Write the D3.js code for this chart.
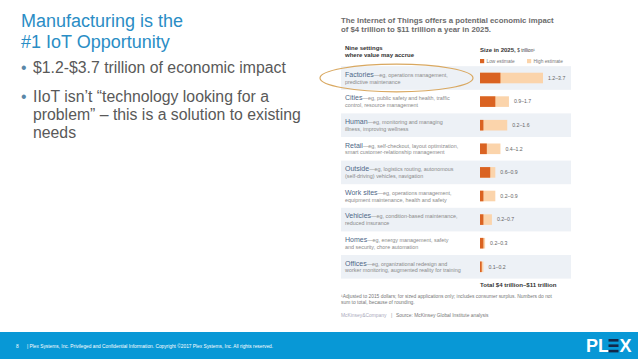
<!DOCTYPE html>
<html><head><meta charset="utf-8">
<script src="https://cdn.jsdelivr.net/npm/d3@7"></script>
<style>
html,body{margin:0;padding:0;background:#fff;}
svg{display:block;font-family:"Liberation Sans",Arial,sans-serif;}
</style></head>
<body>
<svg id="c" width="638" height="359"></svg>
<script>
const settings = ["Factories","Cities","Human","Retail","Outside","Work sites","Vehicles","Homes","Offices"];
const descLine1 = ["—eg, operations management,","—eg, public safety and health, traffic","—eg, monitoring and managing","—eg, self-checkout, layout optimization,","—eg, logistics routing, autonomous","—eg, operations management,","—eg, condition-based maintenance,","—eg, energy management, safety","—eg, organizational redesign and"];
const descLine2 = ["predictive maintenance","control, resource management","illness, improving wellness","smart customer-relationship management","(self-driving) vehicles, navigation","equipment maintenance, health and safety","reduced insurance","and security, chore automation","worker monitoring, augmented reality for training"];
const lowEstimate = [1.2,0.9,0.2,0.4,0.6,0.2,0.2,0.2,0.1];
const highEstimate = [3.7,1.7,1.6,1.2,0.9,0.9,0.7,0.3,0.2];
const valueLabels = ["1.2–3.7","0.9–1.7","0.2–1.6","0.4–1.2","0.6–0.9","0.2–0.9","0.2–0.7","0.2–0.3","0.1–0.2"];
const legendLabels = ["Low estimate","High estimate"];

const svg = d3.select("#c");
const LOW = "#da6322", HIGH = "#fbd4ab";

// Left panel
const L = svg.append("g");
L.append("text").attr("x",21).attr("y",27).attr("font-size",18).attr("fill","#2a8dc5").text("Manufacturing is the");
L.append("text").attr("x",21).attr("y",47.7).attr("font-size",18).attr("fill","#2a8dc5").text("#1 IoT Opportunity");
const bullets = [
  {y:73.3, t:"$1.2-$3.7 trillion of economic impact", b:true},
  {y:101.7, t:"IIoT isn’t “technology looking for a", b:true},
  {y:120, t:"problem” – this is a solution to existing", b:false},
  {y:138.3, t:"needs", b:false}
];
bullets.forEach(d=>{
  if(d.b) L.append("text").attr("x",21).attr("y",d.y).attr("font-size",15.8).attr("fill","#5a87a8").text("•");
  L.append("text").attr("x",33).attr("y",d.y).attr("font-size",15.8).attr("fill","#595959").text(d.t);
});

// Chart header
const C = svg.append("g");
C.append("text").attr("x",341).attr("y",22.5).attr("font-size",7.8).attr("font-weight","bold").attr("fill","#6b6b6b").text("The Internet of Things offers a potential economic impact");
C.append("text").attr("x",341).attr("y",32).attr("font-size",7.8).attr("font-weight","bold").attr("fill","#6b6b6b").text("of $4 trillion to $11 trillion a year in 2025.");
C.append("text").attr("x",345).attr("y",49.5).attr("font-size",6).attr("font-weight","bold").attr("fill","#333").text("Nine settings");
C.append("text").attr("x",345).attr("y",57).attr("font-size",6).attr("font-weight","bold").attr("fill","#333").text("where value may accrue");
const st = C.append("text").attr("x",480).attr("y",51.5).attr("fill","#333");
st.append("tspan").attr("font-size",6).attr("font-weight","bold").text("Size in 2025, ");
st.append("tspan").attr("font-size",4.6).text("$ trillion¹");

// scales
const x = d3.scaleLinear().domain([0,3.7]).range([480,543]);
const y = d3.scaleBand().domain(settings).range([66.2,278.6]);

// legend
const lg = C.selectAll("g.lg").data(legendLabels).join("g").attr("class","lg")
  .attr("transform",(d,i)=>`translate(${i?527:480},0)`);
lg.append("rect").attr("x",0).attr("y",59).attr("width",4.2).attr("height",4.2).attr("fill",(d,i)=>i?HIGH:LOW);
lg.append("text").attr("x",6.5).attr("y",63).attr("font-size",4.8).attr("fill","#777").text(d=>d);

// row shading
const rows = C.selectAll("g.row").data(settings).join("g").attr("class","row");
rows.filter((d,i)=>i%2===0).append("rect")
  .attr("x",341).attr("width",230).attr("y",d=>y(d)).attr("height",y.bandwidth()).attr("fill","#edf1f6");

// labels
rows.each(function(d,i){
  const g = d3.select(this), cy = y(d)+y.bandwidth()/2;
  const t = g.append("text").attr("x",345).attr("y",cy-1.3);
  t.append("tspan").attr("font-size",7).attr("fill","#4e6788").text(d);
  t.append("tspan").attr("font-size",5.4).attr("fill","#8a8a8a").text(descLine1[i]);
  g.append("text").attr("x",345).attr("y",cy+5.6).attr("font-size",5.4).attr("fill","#8a8a8a").text(descLine2[i]);
});

// bars
rows.append("rect").attr("x",x(0)).attr("y",d=>y(d)+y.bandwidth()/2-5.3).attr("height",10.6)
  .attr("width",(d,i)=>x(highEstimate[i])-x(0)).attr("fill",HIGH);
rows.append("rect").attr("x",x(0)).attr("y",d=>y(d)+y.bandwidth()/2-5.3).attr("height",10.6)
  .attr("width",(d,i)=>x(lowEstimate[i])-x(0)).attr("fill",LOW);
rows.append("text").attr("x",(d,i)=>x(highEstimate[i])+5).attr("y",d=>y(d)+y.bandwidth()/2+1.8)
  .attr("font-size",5.2).attr("fill","#666").text((d,i)=>valueLabels[i]);

// highlight ellipse
C.append("ellipse").attr("cx",396.5).attr("cy",y("Factories")+y.bandwidth()/2).attr("rx",76.5).attr("ry",13.8)
  .attr("fill","none").attr("stroke","#d9a860").attr("stroke-width",1.2);

// total + footnotes
C.append("text").attr("x",480).attr("y",287).attr("font-size",6.1).attr("font-weight","bold").attr("fill","#333").text("Total  $4 trillion–$11 trillion");
C.append("text").attr("x",341).attr("y",297.5).attr("font-size",4.9).attr("fill","#777").text("¹Adjusted to 2015 dollars; for sized applications only; includes consumer surplus. Numbers do not");
C.append("text").attr("x",341).attr("y",304.3).attr("font-size",4.9).attr("fill","#777").text("sum to total, because of rounding.");
C.append("text").attr("x",341).attr("y",317).attr("font-size",4.9).attr("fill","#aab").text("McKinsey&Company");
C.append("text").attr("x",391).attr("y",317).attr("font-size",4.9).attr("fill","#999").text("|");
C.append("text").attr("x",396).attr("y",317).attr("font-size",4.9).attr("fill","#777").text("Source: McKinsey Global Institute analysis");

// footer band
svg.append("rect").attr("x",0).attr("y",332).attr("width",638).attr("height",27).attr("fill","#0898d6");
svg.append("text").attr("x",16).attr("y",347.5).attr("font-size",4.8).attr("fill","#fff").text("8");
svg.append("text").attr("x",27).attr("y",347.5).attr("font-size",4.8).attr("fill","#fff").text("|  Plex Systems, Inc. Privileged and Confidential Information. Copyright ©2017 Plex Systems, Inc. All rights reserved.");
// logo
const lo = svg.append("g").attr("transform","translate(586,352)");
lo.append("text").attr("x",0).attr("y",0).attr("font-size",18).attr("font-weight","bold").attr("fill","#fff").text("PL");
[0,5.4,10.8].forEach(dy=>lo.append("rect").attr("x",22.5).attr("y",-13+dy).attr("width",10).attr("height",2.6).attr("fill","#13284a"));
lo.append("text").attr("x",33.5).attr("y",0).attr("font-size",18).attr("font-weight","bold").attr("fill","#fff").text("X");
</script>
</body></html>
